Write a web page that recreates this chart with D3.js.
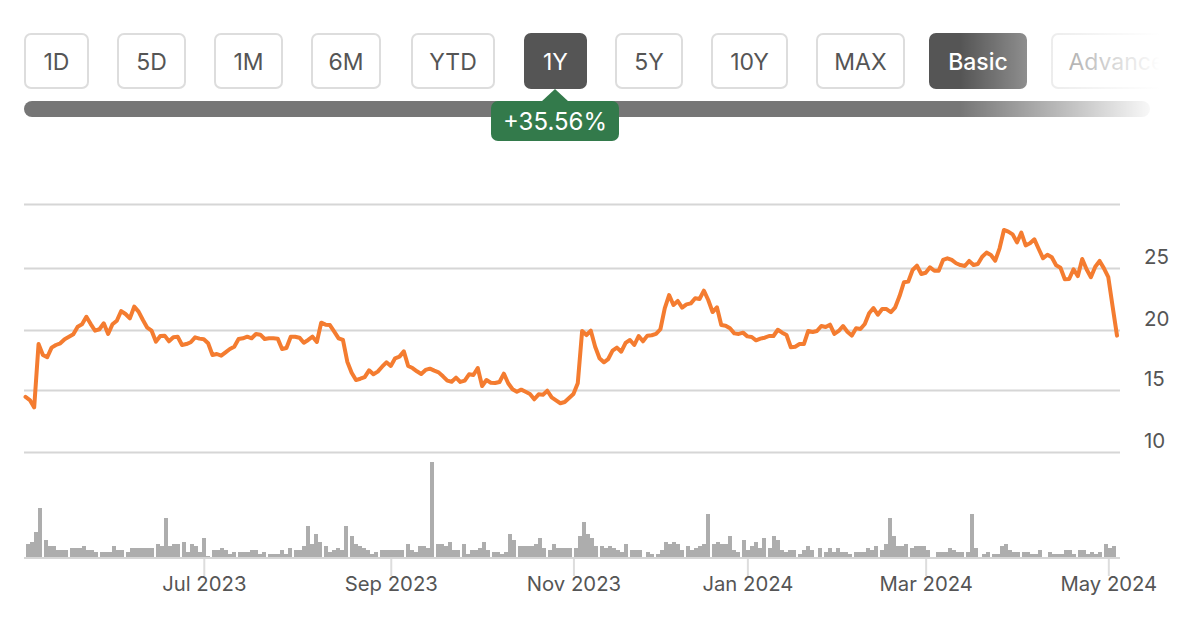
<!DOCTYPE html>
<html>
  <head>
    <meta charset="utf-8">
    <script src="https://d3js.org/d3.v7.min.js"></script>
    <style>
      body { margin: 0; background: #fff; }
      svg { display: block; font-family: Inter, "Open Sans", sans-serif; }
    </style>
  </head>
<body>
  <script type="text/javascript">
    var buttonLabels = ["1D", "5D", "1M", "6M", "YTD", "1Y", "5Y", "10Y", "MAX", "Basic", "Advanced"];
    var activeLabels = ["1Y", "Basic"];
    var changeLabel = "+35.56%";

    var gridValues = [10, 15, 20, 25, 30];
    var priceLabels = [10, 15, 20, 25];
    var monthLabels = ["Jul 2023", "Sep 2023", "Nov 2023", "Jan 2024", "Mar 2024", "May 2024"];
    var monthIndex = [41, 84, 126, 166, 207, 249];

    // closing price per trading day
    var priceValues = [
      14.44, 14.19, 13.6, 18.83, 17.92, 17.73, 18.53, 18.75, 18.89, 19.23, 19.43, 19.64, 20.27, 20.46, 21.07, 20.48, 19.94, 20.06,
      20.54, 19.67, 20.46, 20.75, 21.53, 21.29, 20.94, 21.88, 21.48, 20.81, 20.19, 19.94, 19.03, 19.5, 19.53, 19.06, 19.39,
      19.44, 18.75, 18.83, 18.98, 19.39, 19.28, 19.23, 18.89, 17.92, 18.0, 17.86, 18.14, 18.42, 18.61, 19.25, 19.31, 19.44,
      19.31, 19.67, 19.61, 19.25, 19.31, 19.31, 19.28, 18.42, 18.5, 19.44, 19.44, 19.36, 18.94, 19.17, 19.44, 19.0, 20.59,
      20.43, 20.4, 19.86, 19.31, 19.17, 17.36, 16.44, 15.83, 15.94, 16.08, 16.64, 16.31, 16.53, 16.94, 17.31, 17.0,
      17.64, 17.78, 18.22, 17.0, 16.83, 16.56, 16.33, 16.67, 16.78, 16.61, 16.47, 16.14, 15.78, 15.69, 16.03, 15.67, 15.78,
      16.31, 16.25, 16.83, 15.33, 15.83, 15.61, 15.58, 15.67, 16.36, 15.56, 15.06, 14.86, 15.03, 14.86, 14.68, 14.25, 14.65,
      14.62, 14.94, 14.41, 14.17, 13.93, 14.03, 14.35, 14.68, 15.56, 19.92, 19.58, 19.94, 18.61, 17.64, 17.31, 17.58, 18.28,
      18.53,
      18.19, 18.92, 19.17, 18.75, 19.5, 19.06, 19.53, 19.56, 19.67, 20.06, 21.75, 22.82, 22.02, 22.34, 21.8, 22.07, 22.15,
      22.56, 22.5, 23.17, 22.42, 21.45, 21.83, 20.4, 20.35, 20.14, 19.72, 19.67, 19.78, 19.47, 19.42, 19.14, 19.28, 19.36,
      19.5, 19.5, 20.02, 19.78, 19.58, 18.56, 18.61, 18.83, 18.83, 19.92, 19.83, 19.92, 20.32, 20.24, 20.43, 19.67, 19.92,
      20.32, 19.86, 19.53, 20.14, 20.08, 20.48, 21.35, 21.77, 21.23, 21.69, 21.69, 21.43,
      21.83, 22.74, 23.85, 23.9, 24.84, 25.18, 24.52, 24.62, 25.05, 24.78, 24.78, 25.63, 25.76, 25.63, 25.37, 25.23, 25.16,
      25.55, 25.23, 25.31, 25.88, 26.2, 26.02, 25.57, 26.54, 27.97, 27.84, 27.63, 27.0, 27.76, 26.77, 26.93, 27.24, 26.48,
      25.76, 26.04, 25.84, 25.21, 25.02, 24.09, 24.11, 24.9, 24.35, 25.7, 24.9, 24.26, 25.1, 25.55, 24.97, 24.26, 21.88, 19.53
    ];

    // volume per trading day, no scale on the chart so units are arbitrary
    var volumeValues = [
      6.7, 7.7, 12.7, 24.7, 8.7, 5.7, 5.7, 3.7, 3.7, 3.7, 4.7, 4.7, 4.7, 5.7, 3.7, 3.7, 2.7, 2.7, 2.7, 2.7, 5.7, 3.7, 3.7,
      2.7, 4.7, 4.7, 4.7, 4.7, 4.7, 4.7, 6.7, 5.7, 19.7, 5.7, 6.7, 6.7, 7.7, 2.7, 6.7, 5.7, 2.7, 9.7, 0.7, 3.7, 3.7, 4.7,
      3.7, 1.7, 2.7, 2.7, 2.7, 2.7, 3.7, 3.7, 1.7, 2.7, 1.7, 1.7, 1.7, 3.7, 1.7, 4.7, 3.7, 3.7, 5.7, 15.7,
      6.7, 11.7, 7.7, 5.7, 2.7, 3.7, 4.7, 3.7, 15.7, 10.7, 6.7, 5.7, 4.7, 3.7, 1.7, 2.7, 3.7, 3.7, 3.7, 3.7, 3.7, 3.7, 6.7,
      3.7, 2.7, 5.7, 5.7, 4.7, 47.7, 6.7, 6.7, 5.7, 7.7, 3.7, 3.7, 6.7, 1.7, 3.7, 3.7, 4.7, 7.7, 3.7, 2.7, 2.7, 1.7, 2.7,
      11.7, 8.7, 5.7, 5.7, 5.7, 5.7, 6.7, 9.7, 4.7, 3.7, 6.7, 4.7, 4.7, 4.7, 4.7, 4.7, 10.7, 17.7, 11.7, 9.7, 5.7,
      5.7, 4.7, 5.7, 4.7, 3.7, 2.7, 6.7, 3.7, 3.7, 3.7, 0, 2.7, 1.7, 1.7, 3.7, 7.7, 6.7, 7.7, 6.7, 3.7, 5.7, 3.7, 4.7, 5.7,
      6.7, 21.7, 6.7, 7.7, 6.7, 6.7, 10.7, 3.7, 2.7, 8.7, 3.7, 5.7, 7.7, 4.7, 9.7, 4.7, 10.7, 8.7, 3.7, 2.7, 3.7, 3.7, 1.7,
      3.7, 5.7, 3.7, 0, 4.7, 2.7, 4.7, 2.7, 4.7, 2.7, 2.7, 1.7, 2.7, 2.7, 2.7, 4.7, 3.7, 5.7, 3.7, 6.7,
      19.7, 10.7, 5.7, 5.7, 6.7, 4.7, 5.7, 5.7, 5.7, 3.7, 0, 2.7, 2.7, 2.7, 4.7, 3.7, 2.7, 2.7, 2.7, 21.7, 4.7, 0, 1.7, 2.7,
      1.7, 1.7, 5.7, 6.7, 3.7, 2.7, 2.7, 2.7, 2.7, 1.7, 1.7, 3.7, 0, 2.7, 1.7, 1.7, 1.7, 3.7, 3.7, 1.7, 3.7, 3.7, 1.7, 2.7,
      1.7, 2.7, 6.7, 4.7, 5.7
    ];

    // layout only, left edge and width of each button
    var buttonLeft = [24, 117, 214, 311, 411, 524, 615, 711, 816, 929, 1051];
    var buttonWide = [65, 69, 69, 70, 84, 63, 68, 77, 89, 98, 145];

    var svg = d3.select("body").append("svg").attr("width", 1186).attr("height", 624);
    var defs = svg.append("defs");

    var fade = defs.append("linearGradient").attr("id", "fade")
      .attr("gradientUnits", "userSpaceOnUse")
      .attr("x1", 960).attr("x2", 1160).attr("y1", 0).attr("y2", 0);
    fade.append("stop").attr("offset", 0).attr("stop-color", "#fff").attr("stop-opacity", 0);
    fade.append("stop").attr("offset", 1).attr("stop-color", "#fff").attr("stop-opacity", 1);

    /* range buttons and the bar under them */
    svg.append("rect").attr("x", 24).attr("y", 101).attr("width", 1126).attr("height", 16)
      .attr("rx", 8).attr("fill", "#767676");

    var buttons = svg.selectAll(".button").data(buttonLabels).enter().append("g").attr("class", "button");
    buttons.append("rect")
      .attr("x", function(d, i) { return buttonLeft[i] + 1; })
      .attr("y", 34).attr("height", 54).attr("rx", 6)
      .attr("width", function(d, i) { return buttonWide[i] - 2; })
      .attr("fill", function(d) { return activeLabels.includes(d) ? "#555" : "#fff"; })
      .attr("stroke", function(d) { return activeLabels.includes(d) ? "#555" : "#ddd"; })
      .attr("stroke-width", 2);
    buttons.append("text")
      .attr("x", function(d, i) { return buttonLeft[i] + buttonWide[i] / 2; })
      .attr("y", 70).attr("text-anchor", "middle").attr("font-size", 23)
      .attr("font-weight", function(d) { return d == "Basic" ? 500 : 400; })
      .attr("fill", function(d) { return activeLabels.includes(d) ? "#fff" : "#555"; })
      .text(function(d) { return d; });

    // everything at the right end of the controls fades to white
    svg.append("rect").attr("x", 960).attr("y", 25).attr("width", 226).attr("height", 100).attr("fill", "url(#fade)");

    /* change badge */
    svg.append("path").attr("d", "M541,102L555,89L569,102Z").attr("fill", "#337a4b");
    svg.append("rect").attr("x", 491).attr("y", 101).attr("width", 128).attr("height", 40)
      .attr("rx", 7).attr("fill", "#337a4b");
    svg.append("text").attr("x", 555).attr("y", 130).attr("text-anchor", "middle")
      .attr("font-size", 24).attr("fill", "#fff").text(changeLabel);

    /* scales */
    var x = d3.scaleLinear().domain([0, priceValues.length - 1]).range([25.5, 1117]);
    var y = d3.scaleLinear().domain(gridValues).range([452, 390, 330, 268, 204]);
    var xBar = d3.scaleBand().domain(d3.range(volumeValues.length)).range([26, 1116]);
    var yBar = d3.scaleLinear().domain([0, 48]).range([557, 461]);

    /* price grid and labels */
    var yAxis = d3.axisRight(y).tickValues(gridValues).tickSize(-1096)
      .tickFormat(function(d) { return priceLabels.includes(d) ? d : ""; });
    var yG = svg.append("g").attr("transform", "translate(1120,0)").call(yAxis);
    yG.select(".domain").remove();
    yG.selectAll("line").attr("stroke", "#d6d6d6").attr("stroke-width", 2);
    yG.selectAll("text").attr("x", 24).attr("dy", "-0.24em")
      .attr("font-size", 20.5).attr("font-family", "Inter, sans-serif").attr("fill", "#555");

    /* volume bars, left edges sit on a 2px grid so the small gaps come out */
    svg.selectAll(".bar").data(volumeValues).enter().append("rect").attr("class", "bar")
      .attr("x", function(d, i) { return 2 * Math.round(xBar(i) / 2); })
      .attr("y", function(d) { return yBar(d); })
      .attr("width", 4)
      .attr("height", function(d) { return yBar(0) - yBar(d); })
      .attr("fill", "#adadad")
      .attr("shape-rendering", "crispEdges");

    /* month axis */
    var xAxis = d3.axisBottom(x).tickValues(monthIndex).tickSize(19).tickPadding(1)
      .tickFormat(function(d, i) { return monthLabels[i]; });
    var xG = svg.append("g").attr("transform", "translate(0,557)").call(xAxis);
    xG.select(".domain").remove();
    xG.selectAll("line").attr("stroke", "#ddd").attr("stroke-width", 2);
    xG.selectAll("text").attr("font-size", 20.3).attr("font-family", "Inter, sans-serif").attr("fill", "#555");
    svg.append("line").attr("x1", 24).attr("x2", 1120).attr("y1", 558).attr("y2", 558)
      .attr("stroke", "#d6d6d6").attr("stroke-width", 2);

    /* price line */
    var line = d3.line()
      .x(function(d, i) { return x(i); })
      .y(function(d) { return y(d); });
    svg.append("path").datum(priceValues).attr("d", line)
      .attr("fill", "none").attr("stroke", "#f47c30").attr("stroke-width", 4)
      .attr("stroke-linejoin", "round").attr("stroke-linecap", "round");
  </script>
</body>
</html>
